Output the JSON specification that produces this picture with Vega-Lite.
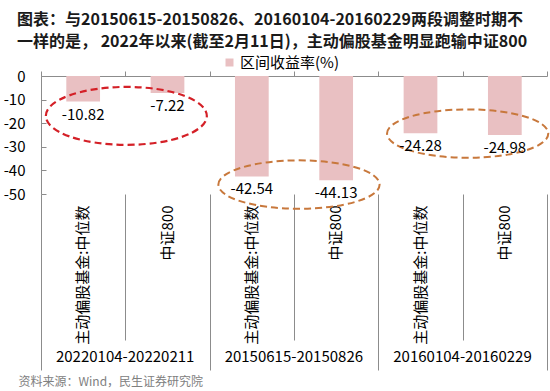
{
  "$schema": "https://vega.github.io/schema/vega-lite/v6.json",
  "width": 506,
  "height": 118,
  "autosize": {"type": "none"},
  "padding": {"left": 41, "top": 76, "right": 3, "bottom": 197},
  "background": "white",
  "title": {
    "text": ["图表：与20150615-20150826、20160104-20160229两段调整时期不", "一样的是， 2022年以来(截至2月11日)，主动偏股基金明显跑输中证800"],
    "anchor": "start",
    "frame": "group",
    "dx": -24,
    "dy": 3,
    "offset": 8,
    "fontSize": 16,
    "fontWeight": "bold",
    "color": "#1a1a1a",
    "lineHeight": 22,
    "font": "Noto Sans CJK SC"
  },
  "config": {
    "font": "Noto Sans CJK SC",
    "view": {"stroke": null},
    "axisY": {"labelOverlap": false, "labelSeparation": 0},
    "locale": {"number": {"decimal": ".", "thousands": ",", "grouping": [3], "currency": ["", ""], "minus": "-"}}
  },
  "datasets": {
    "bars": [
      {"period": "20220104-20220211", "series": "主动偏股基金:中位数", "cat": "20220104-20220211|主动偏股基金:中位数", "value": -10.82},
      {"period": "20220104-20220211", "series": "中证800", "cat": "20220104-20220211|中证800", "value": -7.22},
      {"period": "20150615-20150826", "series": "主动偏股基金:中位数", "cat": "20150615-20150826|主动偏股基金:中位数", "value": -42.54},
      {"period": "20150615-20150826", "series": "中证800", "cat": "20150615-20150826|中证800", "value": -44.13},
      {"period": "20160104-20160229", "series": "主动偏股基金:中位数", "cat": "20160104-20160229|主动偏股基金:中位数", "value": -24.28},
      {"period": "20160104-20160229", "series": "中证800", "cat": "20160104-20160229|中证800", "value": -24.98}
    ],
    "red": [
      {"cat": "20220104-20220211|主动偏股基金:中位数", "value": -16.9}
    ],
    "orange": [
      {"cat": "20150615-20150826|主动偏股基金:中位数", "value": -46.0},
      {"cat": "20160104-20160229|主动偏股基金:中位数", "value": -24.4}
    ]
  },
  "resolve": {"axis": {"x": "independent"}},
  "layer": [
    {
      "data": {"name": "bars"},
      "mark": {"type": "bar", "width": {"band": 0.4}},
      "encoding": {
        "x": {
          "field": "cat", "type": "nominal", "sort": null,
          "scale": {"domain": ["20220104-20220211|主动偏股基金:中位数", "20220104-20220211|中证800", "20150615-20150826|主动偏股基金:中位数", "20150615-20150826|中证800", "20160104-20160229|主动偏股基金:中位数", "20160104-20160229|中证800"], "paddingInner": 0, "paddingOuter": 0},
          "axis": {
            "orient": "bottom", "domain": false, "labels": false, "ticks": true, "tickBand": "extent",
            "tickColor": "#8c8c8c", "tickWidth": 1,
            "tickSize": {"condition": {"test": "!datum.value || indexof(datum.value, '中证') >= 0", "value": 176}, "value": 146},
            "grid": false, "title": null
          }
        },
        "y": {
          "field": "value", "type": "quantitative",
          "scale": {"domain": [-50, 0], "nice": false, "zero": false},
          "axis": {"values": [0, -10, -20, -30, -40, -50], "tickCount": 10, "format": "d", "labelOverlap": false, "labelSeparation": 0, "domain": true, "domainColor": "#8c8c8c", "ticks": true, "tickColor": "#8c8c8c", "tickSize": -5, "labelFontSize": 15, "labelColor": "#000000", "labelPadding": 21, "grid": false, "title": null}
        },
        "color": {
          "datum": "区间收益率(%)",
          "scale": {"range": ["#e9c0c2"]},
          "legend": {"orient": "none", "legendX": 181, "legendY": -21, "title": null, "symbolType": "square", "symbolSize": 64, "symbolStrokeWidth": 0, "labelFontSize": 15, "labelColor": "#000000", "labelOffset": 3, "padding": 0}
        }
      }
    },
    {
      "data": {"name": "red"},
      "mark": {"type": "point", "shape": "M-1,0C-1,-0.199 -0.552,-0.36 0,-0.36C0.552,-0.36 1,-0.199 1,0C1,0.199 0.552,0.36 0,0.36C-0.552,0.36 -1,0.199 -1,0Z", "size": 25921, "filled": false, "color": "#d42027", "strokeWidth": 2.2, "strokeDash": [7, 4], "opacity": 1, "xOffset": 1},
      "encoding": {
        "x": {
          "field": "cat", "type": "nominal", "sort": null, "bandPosition": 1,
          "axis": {
            "orient": "bottom", "offset": 150, "domain": false, "ticks": false,
            "labelExpr": "indexof(datum.value, '主动') >= 0 ? split(datum.value, '|')[0] : ''",
            "labelAngle": 0, "labelOffset": 42, "labelPadding": 5, "labelFontSize": 15, "labelColor": "#000000",
            "labelOverlap": false, "labelBound": false, "labelFlush": false, "grid": false,
            "title": "资料来源：Wind，民生证券研究院", "titleX": -23, "titleY": 37, "titleAlign": "left", "titleBaseline": "middle", "titleAnchor": "start", "titleAngle": 0, "titleFontSize": 12, "titleFontWeight": "normal", "titleColor": "#808080", "titlePadding": 0
          }
        },
        "y": {"field": "value", "type": "quantitative"}
      }
    },
    {
      "data": {"name": "orange"},
      "mark": {"type": "point", "shape": "M-1,0C-1,-0.166 -0.552,-0.3 0,-0.3C0.552,-0.3 1,-0.166 1,0C1,0.166 0.552,0.3 0,0.3C-0.552,0.3 -1,0.166 -1,0Z", "size": 26000, "filled": false, "color": "#c8783c", "strokeWidth": 2, "strokeDash": [7, 4], "opacity": 1, "xOffset": 5},
      "encoding": {
        "x": {
          "field": "cat", "type": "nominal", "sort": null, "bandPosition": 1,
          "axis": {"orient": "bottom", "domain": false, "ticks": false, "labelExpr": "split(datum.value, '|')[1]", "labelAngle": -90, "labelPadding": 11, "labelFontSize": 15, "labelColor": "#000000", "labelOverlap": false, "grid": false, "title": null}
        },
        "y": {"field": "value", "type": "quantitative"}
      }
    },
    {
      "data": {"name": "bars"},
      "mark": {"type": "text", "dy": 13, "baseline": "middle", "fontSize": 15, "color": "#000000"},
      "encoding": {
        "x": {
          "field": "cat", "type": "nominal", "sort": null,
          "axis": {"orient": "top", "labels": false, "domain": true, "domainColor": "#8c8c8c", "ticks": true, "tickBand": "extent", "tickSize": 5, "tickColor": "#8c8c8c", "grid": false, "title": null}
        },
        "y": {"field": "value", "type": "quantitative"},
        "text": {"field": "value", "type": "quantitative", "format": ".2f"}
      }
    }
  ]
}
